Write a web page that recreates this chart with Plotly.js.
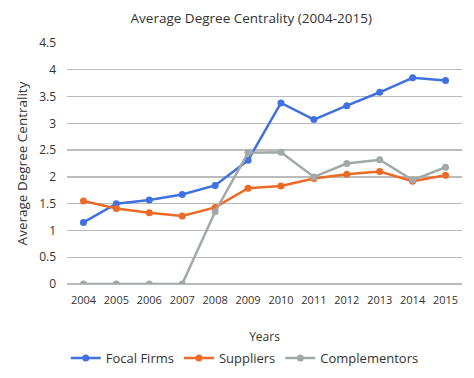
<!DOCTYPE html>
<html><head><meta charset="utf-8">
<script src="https://cdn.plot.ly/plotly-3.0.1.min.js"></script>
<style>html,body{margin:0;padding:0;background:#fff}#c{width:474px;height:378px}</style>
</head><body><div id="c"></div>
<script>
const years = ['2004','2005','2006','2007','2008','2009','2010','2011','2012','2013','2014','2015'];
const focalFirms = [1.15,1.50,1.57,1.67,1.84,2.31,3.38,3.07,3.33,3.58,3.85,3.80];
const suppliers = [1.55,1.41,1.33,1.27,1.43,1.79,1.83,1.97,2.05,2.10,1.92,2.03];
const complementors = [0,0,0,0,1.35,2.45,2.46,2.00,2.25,2.32,1.94,2.18];
const yTicks = [0,0.5,1,1.5,2,2.5,3,3.5,4,4.5];
const yTickText = ['0','0.5','1','1.5','2','2.5','3','3.5','4','4.5'];

const font = 'Open Sans, sans-serif';
function tr(name, y, color){
  return {x: years, y: y, name: name, type:'scatter', mode:'lines+markers',
    line:{color: color, width: 2.5}, marker:{color: color, size: 7}};
}
const data = [
  tr('Focal Firms', focalFirms, '#4170E0'),
  tr('Suppliers', suppliers, '#EB6A25'),
  tr('Complementors', complementors, '#A3A8A8')
];
const layout = {
  width: 474, height: 378,
  margin: {l: 67, r: 12, t: 43, b: 94, autoexpand: false},
  paper_bgcolor: '#fff', plot_bgcolor: '#fff',
  font: {family: font, color: '#333', size: 11},
  title: {text: 'Average Degree Centrality (2004-2015)', x: 0.53, xanchor: 'center', y: 0.952, yanchor: 'middle', font: {size: 13.5, color: '#333', family: font}},
  xaxis: {type: 'category', range: [-0.5, 11.5], showgrid: false, zeroline: false, showline: false, automargin: false,
    ticks: '', ticklabelstandoff: 8, tickfont: {size: 11, color: '#333'},
    title: {text: 'Years', font: {size: 12, color: '#333'}, standoff: 26}},
  yaxis: {range: [0, 4.5], tickvals: yTicks, ticktext: yTickText, showgrid: true, gridcolor: '#bbbbbb', gridwidth: 1.3, automargin: false,
    zeroline: true, zerolinecolor: '#bbbbbb', zerolinewidth: 1.3, showline: false, ticks: '', ticklabelstandoff: 10,
    tickfont: {size: 12, color: '#333'},
    title: {text: 'Average Degree Centrality', font: {size: 13.5, color: '#333'}, standoff: 8}},
  showlegend: true,
  legend: {orientation: 'h', x: 0.45, xanchor: 'center', y: -0.245, yanchor: 'top', font: {size: 13, color: '#333'}, itemwidth: 30, tracegroupgap: 0}
};
Plotly.newPlot('c', data, layout, {displayModeBar: false, staticPlot: true});
</script></body></html>
